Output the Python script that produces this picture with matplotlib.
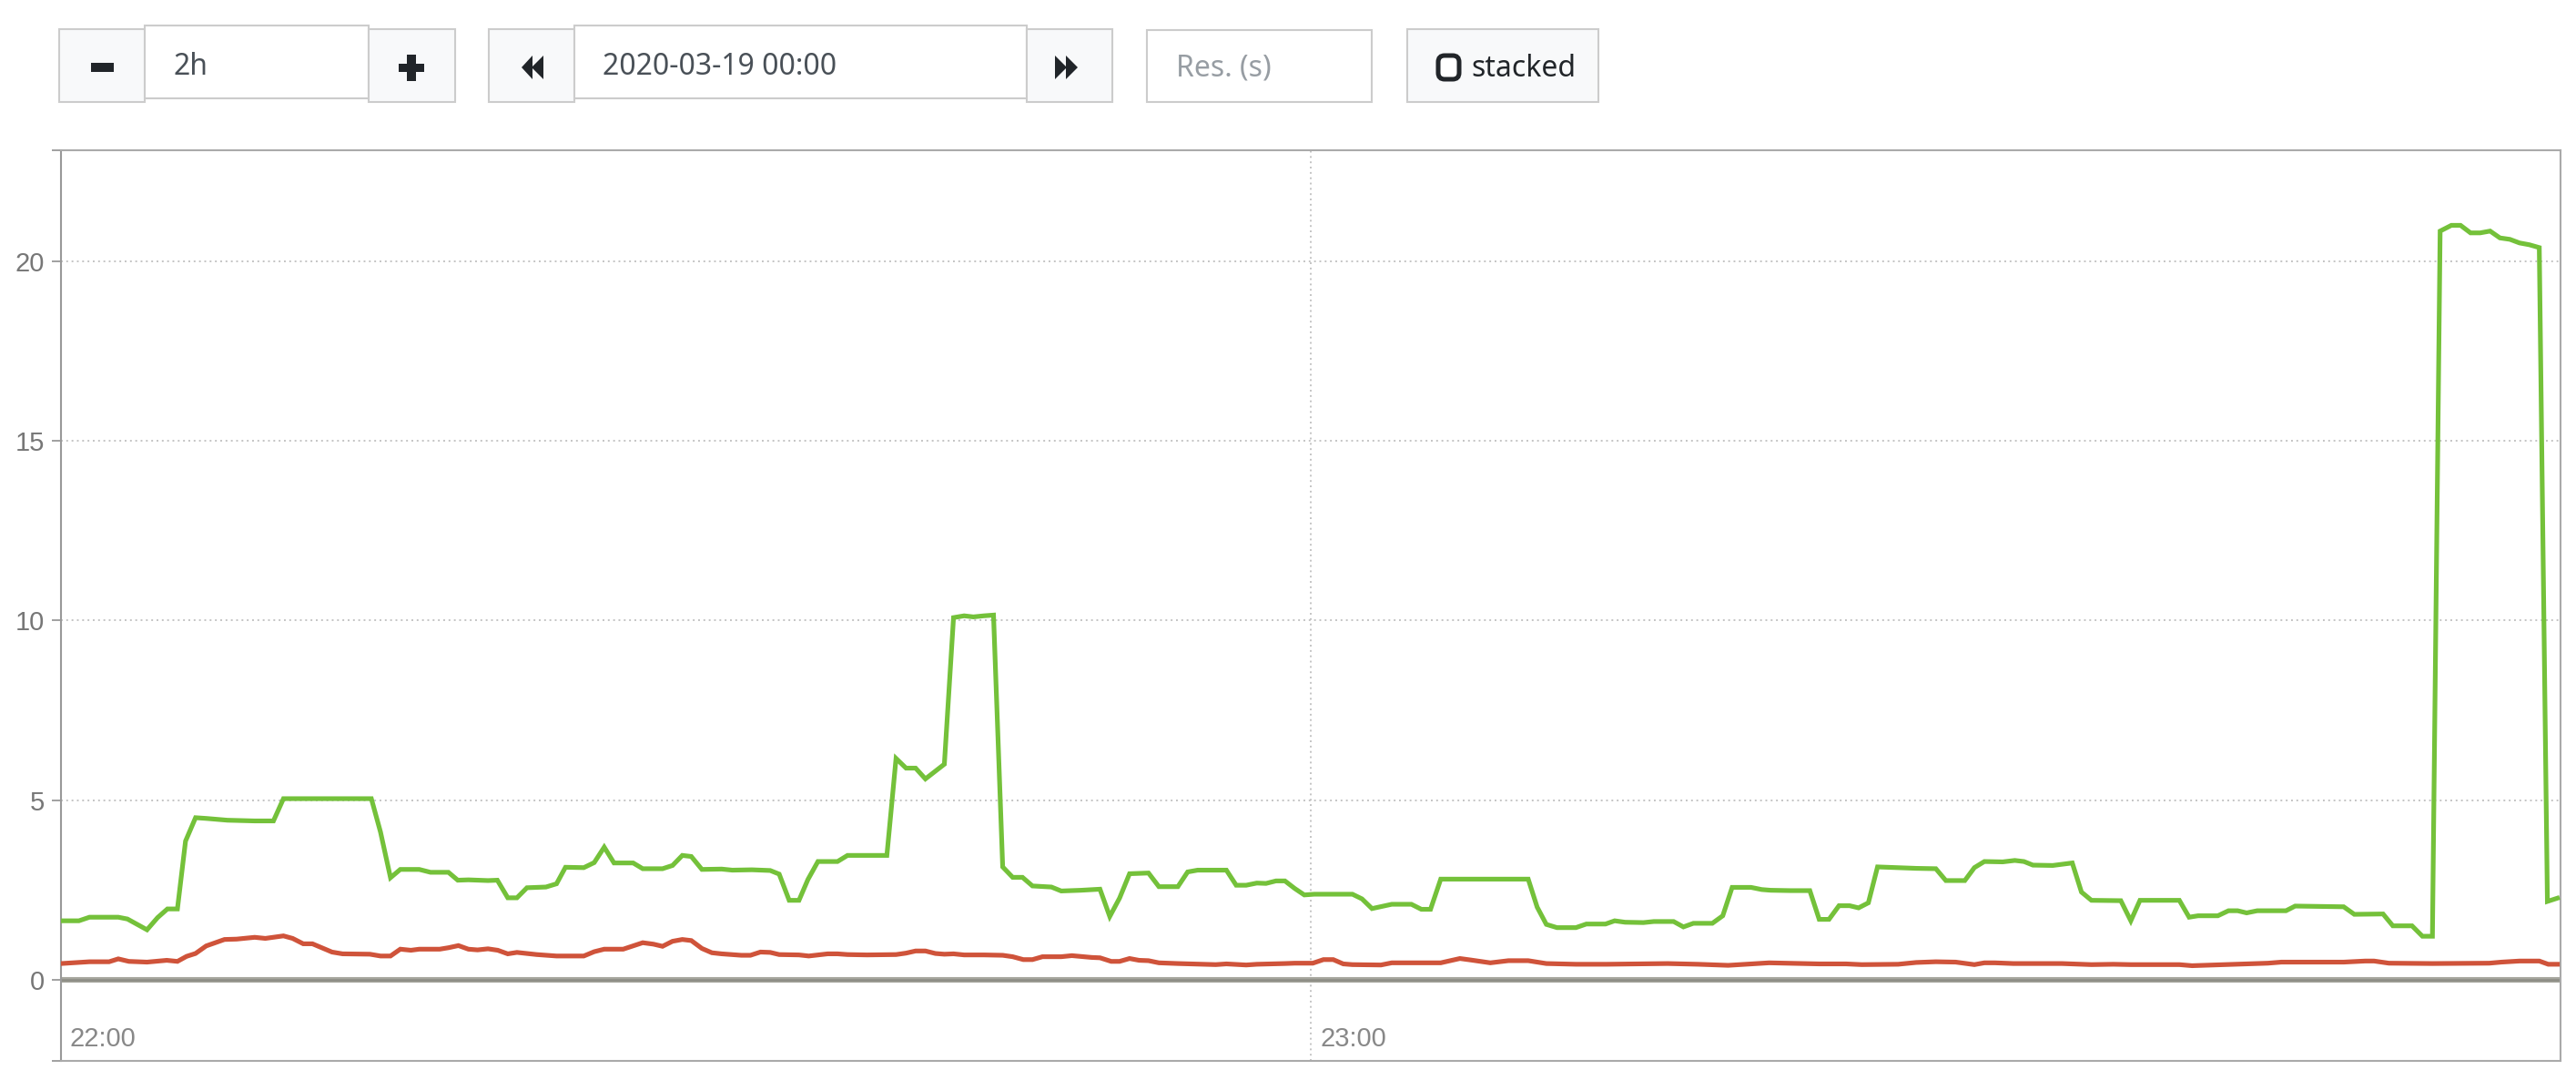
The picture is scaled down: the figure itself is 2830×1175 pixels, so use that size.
import matplotlib
matplotlib.use('Agg')
import matplotlib.pyplot as plt
from matplotlib.patches import Rectangle, Polygon, FancyBboxPatch
from matplotlib.ticker import FixedLocator, NullFormatter

# time is in minutes after 22:00 (range 22:00 - 00:00)
green_t = [0, 0.86, 1.37, 2.75, 3.19, 4.13, 4.64, 5.11, 5.59, 5.98, 6.46, 6.97, 7.99, 9.30, 10.2,
           10.68, 14.9, 15.34, 15.82, 16.29, 17.2, 17.74, 18.6, 19.05, 19.56, 20.5, 20.95, 21.45,
           21.89, 22.37, 23.28, 23.79, 24.22, 25.1, 25.6, 26.08, 26.55, 27.47, 27.93, 28.88, 29.36,
           29.83, 30.26, 30.77, 31.72, 32.23, 33.17, 34.05, 34.48, 34.96, 35.43, 35.86, 36.34, 37.28,
           37.76, 39.65, 40.09, 40.57, 41.03, 41.5, 42.41, 42.85, 43.36, 43.8, 44.31, 44.77, 45.21,
           45.69, 46.16, 46.64, 47.55, 48.02, 48.97, 49.88, 50.35, 50.82, 51.3, 52.21, 52.71, 53.62,
           54.09, 54.57, 55.95, 56.42, 56.9, 57.41, 57.85, 58.33, 58.76, 59.23, 59.69, 60.17, 62.0,
           62.46, 62.94, 63.89, 64.83, 65.31, 65.75, 66.24, 70.44, 70.87, 71.31, 71.82, 72.73, 73.23,
           74.15, 74.59, 75.09, 75.97, 76.47, 77.42, 77.89, 78.37, 79.28, 79.78, 80.23, 81.14, 81.65,
           82.08, 83.03, 83.96, 84.41, 84.88, 85.36, 85.87, 86.3, 86.77, 87.21, 89.07, 90.01, 90.49,
           91.4, 91.86, 92.34, 93.22, 93.8, 94.24, 94.67, 95.62, 96.56, 97.0, 97.48, 98.89, 99.37,
           99.81, 101.7, 102.17, 102.6, 103.55, 104.06, 104.5, 104.93, 105.44, 106.82, 107.26,
           109.59, 110.1, 111.48, 111.95, 112.87, 113.37, 113.85, 114.22, 114.76, 115.2, 115.68,
           116.14, 116.62, 117.09, 117.57, 118.03, 118.5, 118.98, 119.37, 119.85]
green_v = [1.64, 1.64, 1.74, 1.74, 1.69, 1.39, 1.73, 1.97, 1.97, 3.86, 4.51, 4.49, 4.44, 4.42, 4.42,
           5.04, 5.04, 4.11, 2.84, 3.07, 3.07, 2.99, 2.99, 2.77, 2.78, 2.76, 2.77, 2.28,
           2.28, 2.56, 2.58, 2.67, 3.13, 3.12, 3.26, 3.69, 3.25, 3.25, 3.09, 3.09, 3.18,
           3.46, 3.43, 3.07, 3.08, 3.05, 3.06, 3.04, 2.94, 2.21, 2.21, 2.79, 3.29, 3.29,
           3.46, 3.46, 6.16, 5.89, 5.89, 5.59, 6.00, 10.08, 10.13, 10.10, 10.13, 10.15, 3.14,
           2.85, 2.85, 2.61, 2.58, 2.47, 2.49, 2.52, 1.76, 2.27, 2.95, 2.97, 2.59, 2.59,
           3.00, 3.05, 3.05, 2.63, 2.63, 2.69, 2.68, 2.75, 2.75, 2.54, 2.36, 2.38, 2.38,
           2.25, 1.98, 2.10, 2.10, 1.96, 1.96, 2.80, 2.80, 2.02, 1.54, 1.45, 1.45, 1.55,
           1.55, 1.64, 1.60, 1.59, 1.62, 1.62, 1.47, 1.57, 1.57, 1.78, 2.57, 2.57, 2.51,
           2.49, 2.48, 2.48, 1.68, 1.68, 2.06, 2.06, 2.00, 2.14, 3.14, 3.10, 3.09, 2.76,
           2.76, 3.12, 3.29, 3.28, 3.32, 3.29, 3.19, 3.18, 3.25, 2.44, 2.21, 2.20, 1.64,
           2.21, 2.21, 1.74, 1.78, 1.78, 1.92, 1.92, 1.86, 1.92, 1.92, 2.05,
           2.03, 1.82, 1.83, 1.50, 1.50, 1.21, 1.21, 20.84, 21.0, 21.0, 20.79,
           20.79, 20.84, 20.65, 20.61, 20.51, 20.46, 20.38, 2.18, 2.27]

red_t = [0, 0.86, 1.37, 2.31, 2.75, 3.26, 4.13, 5.08, 5.59, 6.03, 6.46, 6.97, 7.85, 8.43, 9.30,
         9.81, 10.68, 11.12, 11.63, 12.07, 13.01, 13.52, 14.83, 15.34, 15.82, 16.29, 16.8, 17.2,
         18.18, 18.6, 19.08, 19.56, 20.0, 20.5, 20.97, 21.45, 21.89, 22.84, 23.79, 25.1, 25.6,
         26.08, 26.99, 27.93, 28.44, 28.88, 29.36, 29.83, 30.26, 30.77, 31.25, 31.72, 32.66, 33.1,
         33.58, 34.05, 34.48, 35.43, 35.9, 36.81, 37.28, 37.76, 38.7, 40.09, 40.57, 41.03, 41.5,
         41.98, 42.41, 42.85, 43.36, 44.31, 45.21, 45.69, 46.2, 46.64, 47.12, 48.02, 48.53, 49.48,
         49.88, 50.42, 50.82, 51.3, 51.76, 52.21, 52.71, 53.62, 55.44, 55.95, 56.9, 57.41, 58.76,
         59.23, 60.1, 60.61, 61.08, 61.56, 62.0, 63.37, 63.89, 66.24, 67.16, 67.67, 68.62, 69.49,
         70.44, 71.31, 72.73, 74.22, 77.13, 78.59, 80.04, 82.0, 84.41, 85.7, 86.45, 88.2, 89.07,
         90.01, 90.96, 91.86, 92.34, 92.85, 93.73, 96.06, 97.48, 98.53, 99.37, 101.7, 102.31,
         103.9, 105.95, 106.6, 109.59, 110.62, 111.05, 111.76, 113.85, 116.58, 117.16, 118.03,
         118.98, 119.41, 119.85]
red_v = [0.45, 0.48, 0.50, 0.50, 0.58, 0.51, 0.49, 0.54, 0.51, 0.65, 0.73, 0.94, 1.12, 1.13, 1.18,
         1.15, 1.22, 1.15, 1.00, 1.00, 0.77, 0.72, 0.71, 0.66, 0.66, 0.85, 0.82, 0.85,
         0.85, 0.89, 0.95, 0.85, 0.83, 0.86, 0.82, 0.72, 0.76, 0.70, 0.66, 0.66, 0.78,
         0.85, 0.85, 1.03, 0.99, 0.93, 1.07, 1.12, 1.09, 0.87, 0.75, 0.72, 0.68, 0.68,
         0.77, 0.76, 0.70, 0.69, 0.66, 0.72, 0.72, 0.70, 0.69, 0.70, 0.74, 0.80, 0.80,
         0.73, 0.71, 0.72, 0.69, 0.69, 0.68, 0.64, 0.56, 0.56, 0.64, 0.64, 0.67, 0.62,
         0.61, 0.51, 0.51, 0.59, 0.54, 0.53, 0.47, 0.45, 0.42, 0.44, 0.41, 0.43, 0.45,
         0.46, 0.46, 0.56, 0.56, 0.44, 0.42, 0.41, 0.47, 0.47, 0.59, 0.55, 0.47, 0.53,
         0.53, 0.45, 0.43, 0.43, 0.45, 0.43, 0.40, 0.47, 0.44, 0.44, 0.42, 0.43, 0.48,
         0.50, 0.49, 0.42, 0.47, 0.47, 0.45, 0.45, 0.42, 0.43, 0.42, 0.42, 0.39,
         0.42, 0.46, 0.49, 0.49, 0.52, 0.52, 0.46, 0.45, 0.46, 0.49, 0.52,
         0.52, 0.43, 0.43]

# series that sit flat on zero
zero_t = [0, 120]
zero_v = [0.0, 0.0]

y_ticks = [0, 5, 10, 15, 20]
x_ticks = [0, 60]
x_tick_labels = ['22:00', '23:00']

W, H = 2830, 1175
DPI = 100


def fx(x):
    return x / W


def fy(y):
    return 1 - y / H


def box(fig, x0, y0, x1, y1, face):
    """Draw a bordered form control, coords in pixels from top-left"""
    fig.patches.append(Rectangle((fx(x0), fy(y1)), fx(x1 - x0), (y1 - y0) / H,
                                 transform=fig.transFigure, facecolor=face,
                                 edgecolor='#cccccc', linewidth=1.5))


def poly(fig, pts, color='#212529'):
    fig.patches.append(Polygon([(fx(x), fy(y)) for x, y in pts], closed=True,
                               transform=fig.transFigure, facecolor=color, edgecolor='none'))


def draw_header(fig):
    btn = '#f8f9fa'
    text_font = ['Noto Sans', 'DejaVu Sans']
    # range controls
    box(fig, 65, 32, 159, 112, btn)
    box(fig, 159, 28, 405, 108, 'white')
    box(fig, 405, 32, 500, 112, btn)
    # end time controls
    box(fig, 537, 32, 631, 112, btn)
    box(fig, 631, 28, 1128, 108, 'white')
    box(fig, 1128, 32, 1222, 112, btn)
    # resolution input + stacked toggle
    box(fig, 1260, 33, 1507, 112, 'white')
    box(fig, 1546, 32, 1756, 112, btn)

    # minus
    poly(fig, [(100, 69), (125, 69), (125, 79), (100, 79)])
    # plus
    poly(fig, [(438, 70), (466, 70), (466, 79), (438, 79)])
    poly(fig, [(447, 60), (457, 60), (457, 89), (447, 89)])
    # backward
    poly(fig, [(573, 74), (585, 61), (585, 87)])
    poly(fig, [(584, 74), (597, 61), (597, 87)])
    # forward
    poly(fig, [(1159, 61), (1172, 74), (1159, 87)])
    poly(fig, [(1171, 61), (1184, 74), (1171, 87)])
    # checkbox
    fig.patches.append(FancyBboxPatch((fx(1580), fy(87)), fx(23), 26 / H,
                                      boxstyle='round,pad=0,rounding_size=0.0025',
                                      transform=fig.transFigure, facecolor='white',
                                      edgecolor='#212529', linewidth=3.6,
                                      mutation_aspect=W / H))

    fig.text(fx(190), fy(73), '2h', fontsize=23, color='#495057', va='center',
             family=text_font)
    fig.text(fx(662), fy(73), '2020-03-19 00:00', fontsize=23, color='#495057',
             va='center', family=text_font)
    fig.text(fx(1292), fy(75), 'Res. (s)', fontsize=23, color='#979da3',
             va='center', family=text_font)
    fig.text(fx(1616), fy(75), 'stacked', fontsize=23, color='#212529',
             va='center', family=text_font)


def draw_chart(fig):
    left, right, top, bottom = 67, 2813, 165, 1165
    ax = fig.add_axes([fx(left), fy(bottom), fx(right - left), (bottom - top) / H])
    ymin, ymax = -2.26, 23.09
    ax.set_xlim(0, 120)
    ax.set_ylim(ymin, ymax)

    grid_style = dict(color='#c4c4c4', linewidth=1.4, linestyle=(0, (1, 2)), zorder=1)
    for v in y_ticks[1:]:
        ax.axhline(v, **grid_style)
    for t in x_ticks[1:]:
        ax.axvline(t, **grid_style)

    ax.plot(zero_t, zero_v, color='#a6a69e', linewidth=4.4, zorder=2)
    ax.plot(zero_t, zero_v, color='#8d8d85', linewidth=1.8, zorder=2)
    ax.plot(green_t, green_v, color='#74c13a', linewidth=3.7,
            solid_joinstyle='miter', zorder=3)
    ax.plot(red_t, red_v, color='#cf533a', linewidth=3.7,
            solid_joinstyle='miter', zorder=3)

    ax.set_xticks([])
    ax.set_yticks(y_ticks)
    ax.set_yticklabels([str(v) for v in y_ticks], fontsize=21, color='#777777',
                       family=['Liberation Sans', 'DejaVu Sans'])
    ax.yaxis.set_minor_locator(FixedLocator([ymin, ymax]))
    ax.yaxis.set_minor_formatter(NullFormatter())
    ax.tick_params(axis='y', which='both', length=7.5, width=1.3, color='#999999',
                   direction='out', pad=5.5)

    for side in ['top', 'right', 'bottom']:
        ax.spines[side].set_color('#aaaaaa')
        ax.spines[side].set_linewidth(1.5)
    ax.spines['left'].set_color('#999999')
    ax.spines['left'].set_linewidth(1.5)

    for t, lab in zip(x_ticks, x_tick_labels):
        ax.annotate(lab, xy=(t, -1.65), xytext=(10, 0), textcoords='offset pixels',
                    fontsize=21, color='#888888', va='center', ha='left',
                    family=['Liberation Sans', 'DejaVu Sans'])
    return ax


def main():
    fig = plt.figure(figsize=(W / DPI, H / DPI), dpi=DPI)
    fig.patch.set_facecolor('white')
    draw_header(fig)
    draw_chart(fig)
    fig.savefig('out.png', dpi=DPI, facecolor='white')


if __name__ == "__main__":
    main()
